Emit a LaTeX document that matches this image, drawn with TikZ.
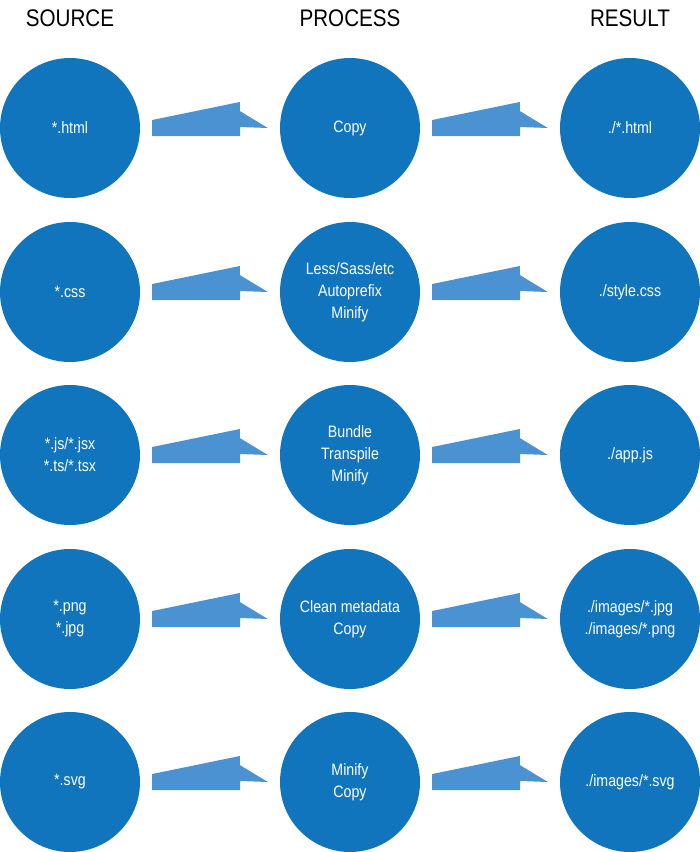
\documentclass[tikz,border=0pt]{standalone}
\usepackage{fontspec}
\setmainfont[FakeStretch=0.86]{Liberation Sans}
\begin{document}
\begin{tikzpicture}[x=1pt,y=-1pt,
  circ/.style={circle,fill=cblue,minimum size=140pt,inner sep=0pt,text=white,font=\fontsize{16.5}{22}\selectfont,align=center},
  hdr/.style={font=\fontsize{24}{26}\selectfont,text=black},
  arr/.style={fill=ablue}]
\definecolor{cblue}{HTML}{1175BE}
\definecolor{ablue}{HTML}{4A92D2}
\useasboundingbox (0,0) rectangle (700,852);
\node[hdr] (h1) at (70,18) {SOURCE};
\node[hdr] (h2) at (350,18) {PROCESS};
\node[hdr] (h3) at (630,18) {RESULT};
\foreach \r/\y/\a/\b/\c in {
  1/128/{*.html}/{Copy}/{./*.html},
  2/292/{*.css}/{Less/Sass/etc\\Autoprefix\\Minify}/{./style.css},
  3/455/{*.js/*.jsx\\*.ts/*.tsx}/{Bundle\\Transpile\\Minify}/{./app.js},
  4/619/{*.png\\*.jpg}/{Clean metadata\\Copy}/{./images/*.jpg\\./images/*.png},
  5/782/{*.svg}/{Minify\\Copy}/{./images/*.svg}}{
  \node[circ] (s\r) at (70,\y) {\a};
  \node[circ] (p\r) at (350,\y) {\b};
  \node[circ] (o\r) at (630,\y) {\c};
  \fill[arr] ([xshift=12pt,yshift=-8pt]s\r.east) -- ++(88,0) -- ++(0,-9) -- ([xshift=-12pt]p\r.west) -- ([xshift=-40pt,yshift=17pt]p\r.west) -- ++(0,-9) -- ([xshift=12pt,yshift=8pt]s\r.east) -- cycle;
  \fill[arr] ([xshift=12pt,yshift=-8pt]p\r.east) -- ++(88,0) -- ++(0,-9) -- ([xshift=-12pt]o\r.west) -- ([xshift=-40pt,yshift=17pt]o\r.west) -- ++(0,-9) -- ([xshift=12pt,yshift=8pt]p\r.east) -- cycle;
}
\end{tikzpicture}
\end{document}
